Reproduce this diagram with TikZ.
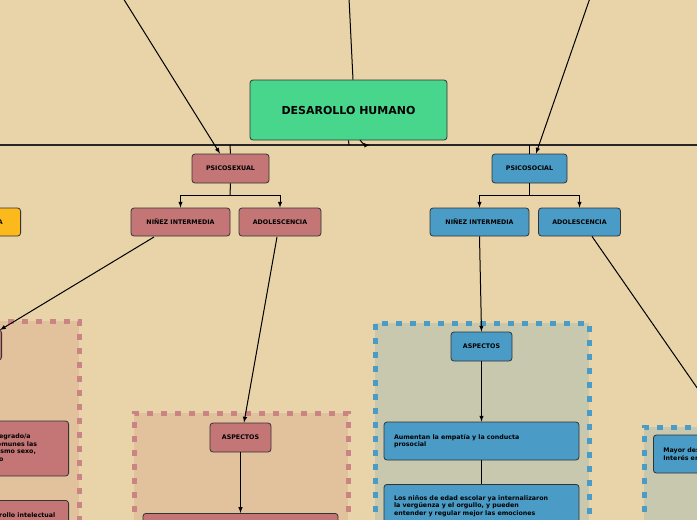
\documentclass[tikz,border=0pt]{standalone}
\usepackage{fontspec}
\setmainfont{DejaVu Sans}
\begin{document}
\begin{tikzpicture}[x=1pt,y=-1pt,
  bx/.style={draw=black!80,rounded corners=3pt,line width=0.8pt,font=\bfseries\fontsize{6.3}{7.5}\selectfont,align=center,inner sep=0pt},
  txt/.style={bx,align=left,text width=#1,inner xsep=10pt},
  pk/.style={fill=pinkc},bl/.style={fill=bluec},
  ar/.style={-latex,line width=1pt},
  ln/.style={line width=1pt},
  cont/.style={line width=5pt,dash pattern=on 6pt off 8pt}]
\definecolor{bg}{HTML}{E8D4A8}
\definecolor{pinkc}{HTML}{C47676}
\definecolor{bluec}{HTML}{4A9CC6}
\definecolor{greenc}{HTML}{48D68C}
\definecolor{yel}{HTML}{FBB91C}
\definecolor{pfill}{HTML}{E2C29C}
\definecolor{bfill}{HTML}{C8C8AE}
\useasboundingbox (0,0) rectangle (697,520);
\clip (0,0) rectangle (697,520);
\fill[bg] (0,0) rectangle (697,520);
% containers
\fill[pfill] (-20,321) rectangle (79,540);
\draw[cont,draw=pinkc!90] (-20,321) -- (79,321) -- (79,540);
\fill[pfill] (134,413) rectangle (348,540);
\draw[cont,draw=pinkc!90] (134,540) -- (134,413) -- (348,413) -- (348,540);
\fill[bfill] (375,323) rectangle (589,540);
\draw[cont,draw=bluec] (375,540) -- (375,323) -- (589,323) -- (589,540);
\fill[bfill] (644,427) rectangle (720,540);
\draw[cont,draw=bluec] (644,540) -- (644,427) -- (720,427);
% hline
\draw[line width=1.2pt,black!85] (0,145) -- (697,145);
% main
\node[bx,fill=greenc,minimum width=197pt,minimum height=60pt,font=\bfseries\fontsize{11}{13}\selectfont] (main) at (348.5,110) {DESAROLLO HUMANO};
\coordinate (t1) at (123,-2); \coordinate (t2) at (349,-2); \coordinate (t3) at (590,-2);
\node[bx,pk,minimum width=77pt,minimum height=29pt] (ps) at (230.5,168.5) {PSICOSEXUAL};
\node[bx,bl,minimum width=75pt,minimum height=29pt] (pso) at (529.5,168.5) {PSICOSOCIAL};
\draw[ar] (t1) -- (ps.north west -| 220,0);
\draw[ln] (t2) -- (main.north -| 353,0);
\draw[ar] (t3) -- (ps.north -| 536,0);
\draw[ln] (main.south) -- (349,145);
\draw[ar] (360,140) to[bend right=30] (370,145);
\draw[ln] (ps.north) -- (230,145);
\draw[ln] (pso.north) -- (529.5,145);
\node[bx,pk,minimum width=99pt,minimum height=28pt] (n1) at (180.5,222) {NIÑEZ INTERMEDIA};
\node[bx,pk,minimum width=82pt,minimum height=28pt] (a1) at (280,222) {ADOLESCENCIA};
\node[bx,bl,minimum width=99pt,minimum height=28pt] (n2) at (479.5,222) {NIÑEZ INTERMEDIA};
\node[bx,bl,minimum width=82pt,minimum height=28pt] (a2) at (579.5,222) {ADOLESCENCIA};
\node[bx,fill=yel,minimum width=90pt,minimum height=28pt,anchor=east] (ya) at (21,222) {ADOLESCENCIA};
\draw[ln] (ps.south) -- (230,195);
\draw[ar] (180.5,195) -- (n1.north); \draw[ar] (280,195) -- (a1.north); \draw[ln] (180.5,195) -- (280,195);
\draw[ln] (pso.south) -- (529.5,195);
\draw[ar] (479.5,195) -- (n2.north); \draw[ar] (579.5,195) -- (a2.north); \draw[ln] (479.5,195) -- (579.5,195);
% left
\node[bx,pk,minimum width=60pt,minimum height=30pt,anchor=east] (lasp) at (2,345) {ASPECTOS};
\draw[ar] (154,237) -- (0,330);
\node[txt=80pt,pk,minimum height=55pt,anchor=east] (lb1) at (69,448.5) {Se integrado/a\\con comunes las\\del mismo sexo,\\género};
\node[txt=80pt,pk,minimum height=40pt,anchor=north east] (lb2) at (69,500) {Desarrollo intelectual\\\strut};
% middle
\node[bx,pk,minimum width=61pt,minimum height=29pt] (asp1) at (240.5,437.5) {ASPECTOS};
\node[bx,pk,minimum width=195pt,minimum height=40pt,anchor=north] (mb) at (240.5,513) {};
\draw[ar] (277,237) -- (asp1.north -| 244,0);
\draw[ar] (asp1.south) -- (mb.north);
% right
\node[bx,bl,minimum width=61pt,minimum height=29pt] (asp2) at (481.5,346.5) {ASPECTOS};
\draw[ar] (n2.south) -- (asp2.north);
\node[txt=175pt,bl,minimum width=195pt,minimum height=38pt] (rb1) at (481.5,441) {Aumentan la empatía y la conducta\\prosocial};
\node[txt=175pt,bl,minimum width=195pt,inner ysep=11pt,anchor=north] (rb2) at (481.5,484) {Los niños de edad escolar ya internalizaron\\la vergüenza y el orgullo, y pueden\\entender y regular mejor las emociones};
\draw[ar] (asp2.south) -- (rb1.north);
\draw[ln] (rb1.south) -- (rb2.north);
% far right
\node[txt=80pt,bl,minimum width=100pt,minimum height=38pt,anchor=west] (fr) at (653,454) {Mayor desarrollo\\Interés en};
\coordinate (fe) at (700,392);
\draw[ln] (a2.south -| 592,0) -- (fe);
\end{tikzpicture}
\end{document}
